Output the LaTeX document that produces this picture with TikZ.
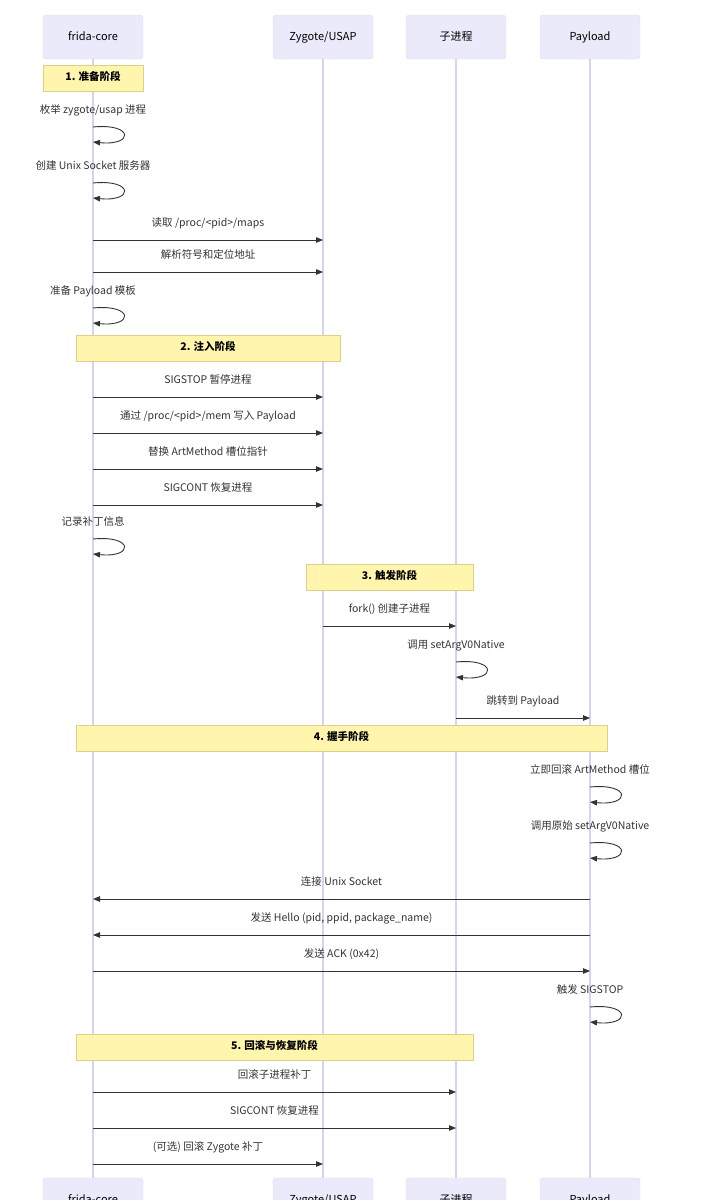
\documentclass[tikz,border=0pt]{standalone}
\usepackage{fontspec}
\setmainfont{Noto Sans CJK SC}
\usetikzlibrary{arrows.meta,positioning}

\definecolor{actorfill}{HTML}{EAEAFA}
\definecolor{actorline}{HTML}{DCDCF2}
\definecolor{lifecol}{HTML}{D6D2F0}
\definecolor{notefill}{HTML}{FFF5AD}
\definecolor{noteline}{HTML}{DDD08A}
\definecolor{msgcol}{HTML}{333333}

\tikzset{
  actor/.style={draw=actorline, fill=actorfill, rounded corners=3pt,
    minimum width=100pt, minimum height=44pt, text height=8.5pt, text depth=2.5pt,
    font=\fontsize{11}{13}\selectfont},
  lifeline/.style={draw=lifecol, line width=1.1pt},
  phase/.style={draw=noteline, fill=notefill, minimum height=26pt,
    text height=8pt, text depth=2.5pt, font=\fontsize{10.5}{12}\selectfont\bfseries},
  msg/.style={draw=msgcol, line width=0.9pt, -{Triangle[length=7pt,width=5.5pt]}},
  lbl/.style={font=\fontsize{10.5}{12}\selectfont, text=msgcol,
    text height=8pt, text depth=2.5pt},
}

% message between two lifelines: name, from, to, y, text
\newcommand{\callmsg}[5]{%
  \coordinate (#1s) at (#2 |- 0,#4);
  \coordinate (#1e) at (#3 |- 0,#4);
  \draw[msg] (#1s) -- node[lbl, yshift=16pt] (#1t) {#5} (#1e);}

% self call on one lifeline: name, lifeline, y, text
\newcommand{\selfmsg}[4]{%
  \coordinate (#1s) at (#2 |- 0,#3);
  \coordinate (#1e) at (#2 |- 0,#3+15);
  \node[lbl] (#1t) at ([yshift=16pt]#1s) {#4};
  \draw[msg] (#1s) .. controls +(41,-4) and +(41,4) .. (#1e);}

\begin{document}
\begin{tikzpicture}[x=1pt,y=-1pt]
    \useasboundingbox (0,0) rectangle (704,1200);

    % Participants
    \node[actor] (fc) at (93,37) {frida-core};
    \node[actor] (zy) at (323,37) {Zygote/USAP};
    \node[actor] (cp) at (456,37) {子进程};
    \node[actor] (pl) at (590,37) {Payload};

    \node[actor] (fcb) at (93,1200) {frida-core};
    \node[actor] (zyb) at (323,1200) {Zygote/USAP};
    \node[actor] (cpb) at (456,1200) {子进程};
    \node[actor] (plb) at (590,1200) {Payload};

    % Lifelines
    \draw[lifeline] (fc) -- (fcb);
    \draw[lifeline] (zy) -- (zyb);
    \draw[lifeline] (cp) -- (cpb);
    \draw[lifeline] (pl) -- (plb);

    % 1. preparation
    \node[phase, minimum width=100pt] (ph1) at (93,78) {1. 准备阶段};
    \selfmsg{s1}{fc}{127}{枚举 zygote/usap 进程}
    \selfmsg{s2}{fc}{183}{创建 Unix Socket 服务器}
    \callmsg{m1}{fc}{zy}{240}{读取 /proc/<pid>/maps}
    \callmsg{m2}{fc}{zy}{272}{解析符号和定位地址}
    \selfmsg{s3}{fc}{308}{准备 Payload 模板}

    % 2. injection
    \node[phase, minimum width=264pt] (ph2) at (208,348) {2. 注入阶段};
    \callmsg{m3}{fc}{zy}{397}{SIGSTOP 暂停进程}
    \callmsg{m4}{fc}{zy}{433}{通过 /proc/<pid>/mem 写入 Payload}
    \callmsg{m5}{fc}{zy}{469}{替换 ArtMethod 槽位指针}
    \callmsg{m6}{fc}{zy}{505}{SIGCONT 恢复进程}
    \selfmsg{s4}{fc}{539}{记录补丁信息}

    % 3. trigger
    \node[phase, minimum width=167pt] (ph3) at (389.5,577) {3. 触发阶段};
    \callmsg{m7}{zy}{cp}{626}{fork() 创建子进程}
    \selfmsg{s5}{cp}{662}{调用 setArgV0Native}
    \callmsg{m8}{cp}{pl}{718}{跳转到 Payload}

    % 4. handshake
    \node[phase, minimum width=531pt] (ph4) at (341.5,738) {4. 握手阶段};
    \selfmsg{s6}{pl}{787}{立即回滚 ArtMethod 槽位}
    \selfmsg{s7}{pl}{843}{调用原始 setArgV0Native}
    \callmsg{m9}{pl}{fc}{899}{连接 Unix Socket}
    \callmsg{m10}{pl}{fc}{935}{发送 Hello (pid, ppid, package\_name)}
    \callmsg{m11}{fc}{pl}{971}{发送 ACK (0x42)}
    \selfmsg{s8}{pl}{1007}{触发 SIGSTOP}

    % 5. rollback
    \node[phase, minimum width=397pt] (ph5) at (274.5,1047) {5. 回滚与恢复阶段};
    \callmsg{m12}{fc}{cp}{1092}{回滚子进程补丁}
    \callmsg{m13}{fc}{cp}{1128}{SIGCONT 恢复进程}
    \callmsg{m14}{fc}{zy}{1164}{(可选) 回滚 Zygote 补丁}

\end{tikzpicture}
\end{document}
